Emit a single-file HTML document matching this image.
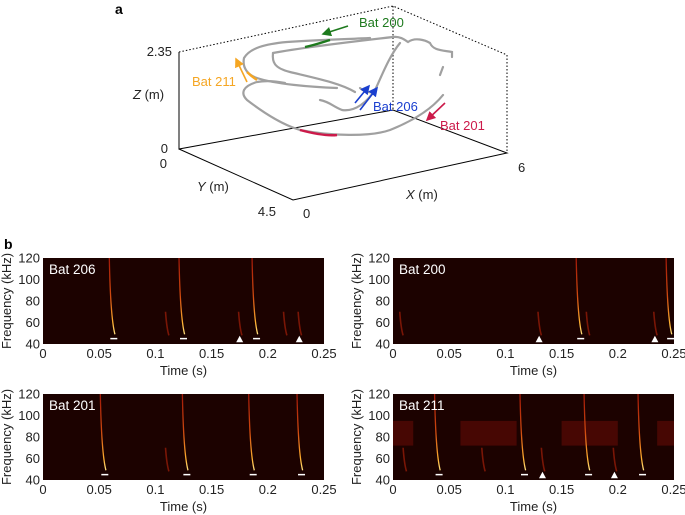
<!DOCTYPE html>
<html><head><meta charset="utf-8"><style>
body{margin:0;background:#fff;}
svg{display:block;font-family:"Liberation Sans",sans-serif;}
</style></head><body>
<svg id="fig" width="685" height="515" viewBox="0 0 685 515">
<defs>
<linearGradient id="callg" x1="0" y1="0" x2="0" y2="1">
<stop offset="0" stop-color="#a01808"/><stop offset="0.5" stop-color="#d04a10"/><stop offset="0.85" stop-color="#ffb030"/><stop offset="1" stop-color="#ffe080"/>
</linearGradient>
<marker id="ah-g" markerWidth="6" markerHeight="6" refX="5" refY="3" orient="auto"><path d="M0,0L6,3L0,6z" fill="#1e7a1e"/></marker>
<marker id="ah-o" markerWidth="6" markerHeight="6" refX="5" refY="3" orient="auto"><path d="M0,0L6,3L0,6z" fill="#f5a623"/></marker>
<marker id="ah-b" markerWidth="6" markerHeight="6" refX="5" refY="3" orient="auto"><path d="M0,0L6,3L0,6z" fill="#1a3fcf"/></marker>
<marker id="ah-r" markerWidth="6" markerHeight="6" refX="5" refY="3" orient="auto"><path d="M0,0L6,3L0,6z" fill="#cc1a4a"/></marker>
</defs>
<g>
<text x="115" y="14" font-size="14" font-weight="bold">a</text>
<g fill="none" stroke="#000" stroke-width="1">
<path d="M179,52 L393,6 L507,55 L507,153 M393,6 L393,110" stroke-dasharray="1.5,2"/>
<path d="M179,52 L179,149 L393,110 L507,153 L293,200 L179,149"/>
</g>
<g font-size="13" fill="#222">
<text x="172" y="56" text-anchor="end">2.35</text>
<text x="168" y="153" text-anchor="end">0</text>
<text x="167" y="168" text-anchor="end">0</text>
<text x="276" y="216" text-anchor="end">4.5</text>
<text x="303" y="218">0</text>
<text x="518" y="172">6</text>
<text x="133" y="99"><tspan font-style="italic">Z</tspan> (m)</text>
<text x="197" y="191"><tspan font-style="italic">Y</tspan> (m)</text>
<text x="406" y="199"><tspan font-style="italic">X</tspan> (m)</text>
</g>
<g fill="none" stroke="#a0a0a0" stroke-width="2.2" stroke-linecap="round">
<path d="M443,95 C435,105 420,118 390,130 C370,137 330,136 300,130 C280,124 260,110 247,100 C240,93 243,86 257,82 C268,80 280,82 285,83"/>
<path d="M370,38 C350,39 320,40 287,42 C265,44 250,48 244,58 C242,68 248,75 257,78 C275,84 310,87 337,88"/>
<path d="M273,53 C272,62 274,68 290,72 C315,78 340,83 355,92"/>
<path d="M273,53 C300,48 340,43 393,37 C400,36 405,40 408,42 C415,37 425,40 430,43 C433,50 440,50 452,52 L452,57 M443,67 L440,75"/>
<path d="M400,43 C390,55 382,75 376,88 C368,102 355,112 342,110 C332,106 330,102 320,100"/>
<path d="M360,88 C362,90 366,93 372,92"/>
</g>
<path d="M300,130 C315,134 328,136 337,135" stroke="#cc1a4a" stroke-width="2.4" fill="none"/>
<path d="M305,47 C315,45 323,42 330,40" stroke="#1e7a1e" stroke-width="2.4" fill="none"/>
<path d="M247,72 C251,76 254,78 257,80" stroke="#f5a623" stroke-width="2.4" fill="none"/>
<g stroke-width="1.6" fill="none">
<line x1="348" y1="26" x2="323" y2="34" stroke="#1e7a1e" marker-end="url(#ah-g)"/>
<line x1="247" y1="82" x2="236" y2="59" stroke="#f5a623" marker-end="url(#ah-o)"/>
<line x1="355" y1="103" x2="369" y2="86" stroke="#1a3fcf" marker-end="url(#ah-b)"/>
<line x1="360" y1="110" x2="377" y2="88" stroke="#1a3fcf" marker-end="url(#ah-b)"/>
<line x1="445" y1="103" x2="427" y2="120" stroke="#cc1a4a" marker-end="url(#ah-r)"/>
</g>
<g font-size="13">
<text x="359" y="27" fill="#1e7a1e">Bat 200</text>
<text x="192" y="86" fill="#f5a623">Bat 211</text>
<text x="373" y="111" fill="#1a3fcf">Bat 206</text>
<text x="440" y="130" fill="#cc1a4a">Bat 201</text>
</g>
</g>
<text x="4" y="249" font-size="14" font-weight="bold">b</text>
<g id="specs"></g>
</svg>
<script>
// Data per spectrogram panel
const timeTicks = [0, 0.05, 0.1, 0.15, 0.2, 0.25];
const timeTickLabels = ["0", "0.05", "0.1", "0.15", "0.2", "0.25"];
const freqTicks = [40, 60, 80, 100, 120];
const panelNames = ["Bat 206", "Bat 200", "Bat 201", "Bat 211"];
const calls206 = [0.063, 0.125, 0.19];
const calls200 = [0.167, 0.247];
const calls201 = [0.055, 0.128, 0.187, 0.23];
const calls211 = [0.041, 0.117, 0.174, 0.222];
const tri206 = [0.175, 0.228];
const tri200 = [0.13, 0.233];
const tri201 = [];
const tri211 = [0.133, 0.197];
const faint206 = [0.175, 0.215, 0.228, 0.11];
const faint200 = [0.007, 0.13, 0.173, 0.233];
const faint201 = [0.11];
const faint211 = [0.133, 0.197, 0.08, 0.01];
const band211Start = [0, 0.06, 0.15, 0.235];
const band211End = [0.018, 0.11, 0.2, 0.25];

const NS = "http://www.w3.org/2000/svg";
const layout = [[43,258],[393,258],[43,394],[393,394]];
const PW = 281, PH = 86;
const callSets = [calls206, calls200, calls201, calls211];
const triSets = [tri206, tri200, tri201, tri211];
const faintSets = [faint206, faint200, faint201, faint211];
const g = document.getElementById('specs');
function mk(tag, attrs, parent){const e=document.createElementNS(NS,tag);for(const k in attrs)e.setAttribute(k,attrs[k]);(parent||g).appendChild(e);return e;}
for (let p=0;p<4;p++){
  const [L,T]=layout[p];
  const xs = t => L + t/0.25*PW;
  const ys = f => T + (120-f)/80*PH;
  const pg = mk('g',{});
  
  
  const bg = mk('rect',{x:L,y:T,width:PW,height:PH,fill:'#1c0200'},pg);
  
  
  if (p===3){
    for (let i=0;i<band211Start.length;i++){
      const b = mk('rect',{x:xs(band211Start[i]),y:ys(95),width:xs(band211End[i])-xs(band211Start[i]),height:ys(72)-ys(95),fill:'#5a0a04',opacity:0.7},pg);
      
      
    }
  }
  faintSets[p].forEach(t=>{
    const f = mk('path',{d:`M${xs(t-0.001)},${ys(70)} Q${xs(t)},${ys(55)} ${xs(t+0.002)},${ys(48)}`,stroke:'#7a1606',"stroke-width":1.6,fill:'none'},pg);
    
    
  });
  callSets[p].forEach(t=>{
    const c = mk('path',{d:`M${xs(t-0.004)},${ys(120)} Q${xs(t-0.003)},${ys(65)} ${xs(t+0.001)},${ys(49)}`,stroke:'url(#callg)',"stroke-width":1.3,fill:'none'},pg);
    
    
    const d = mk('line',{x1:xs(t)-3.5,x2:xs(t)+3.5,y1:ys(45),y2:ys(45),stroke:'#fff',"stroke-width":1.5},pg);
    
    
  });
  triSets[p].forEach(t=>{
    const x=xs(t), y=ys(43);
    const tr = mk('path',{d:`M${x-3.5},${y+1.5} L${x+3.5},${y+1.5} L${x},${y-5} Z`,fill:'#fff'},pg);
    
    
  });
  const lbl = mk('text',{x:L+6,y:T+16,fill:'#fff',"font-size":13.5},pg);
  lbl.textContent = panelNames[p];
  
  
  freqTicks.forEach(f=>{
    const t = mk('text',{x:L-3,y:ys(f)+4.5,"text-anchor":"end","font-size":13,fill:'#222'},pg);
    t.textContent = f;
    
    
  });
  timeTicks.forEach((tv,i)=>{
    const t = mk('text',{x:xs(tv),y:T+PH+14,"text-anchor":"middle","font-size":13,fill:'#222'},pg);
    t.textContent = timeTickLabels[i];
    
    
  });
  const xt = mk('text',{x:L+PW/2,y:T+PH+31,"text-anchor":"middle","font-size":13,fill:'#222'},pg);
  xt.textContent = 'Time (s)';
  
  
  const yt = mk('text',{x:0,y:0,"text-anchor":"middle","font-size":13,fill:'#222',transform:`translate(${L-32},${T+PH/2}) rotate(-90)`},pg);
  yt.textContent = 'Frequency (kHz)';
  
  
}
</script>
</body></html>
